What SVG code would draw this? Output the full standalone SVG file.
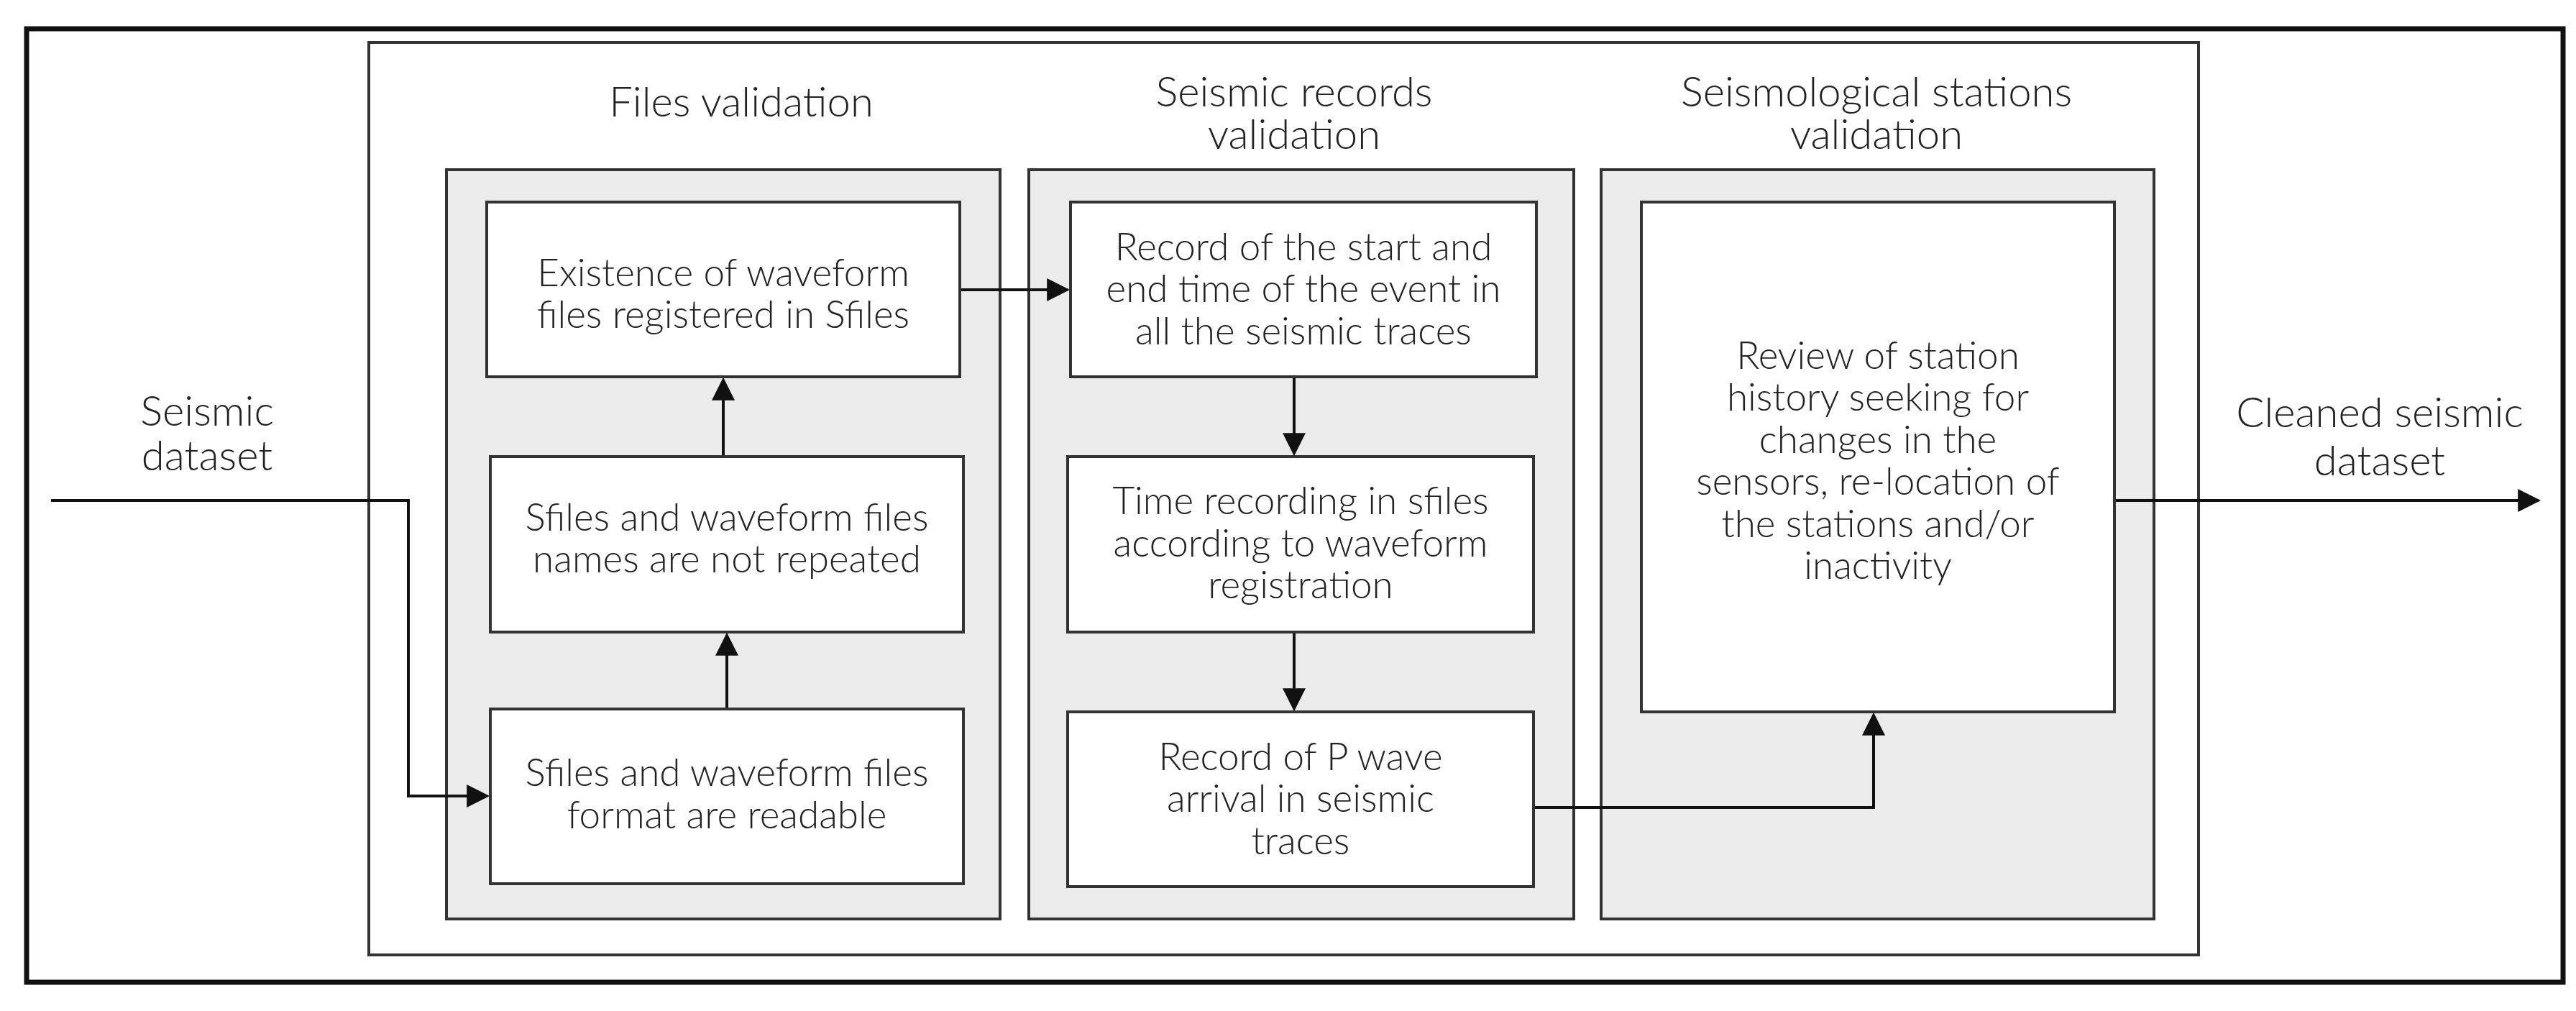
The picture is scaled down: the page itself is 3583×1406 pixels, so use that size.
<svg xmlns="http://www.w3.org/2000/svg" width="3583" height="1406" viewBox="0 0 3583 1406">
<style>
text{font-family:Lato,"Open Sans","Liberation Sans",sans-serif;font-weight:300;font-size:53px;fill:#222;text-anchor:middle}
.t{font-size:58px}
.panel{fill:#ebebeb;stroke:#333;stroke-width:4}
.box{fill:#fff;stroke:#333;stroke-width:4}
.c{fill:none;stroke:#111;stroke-width:4}
</style>
<defs><marker id="a" viewBox="0 0 10 10" refX="9" refY="5" markerWidth="8" markerHeight="8" orient="auto" markerUnits="strokeWidth"><path d="M0,0L10,5L0,10z" fill="#111"/></marker></defs>
<rect x="37" y="40" width="3528" height="1326" fill="#fff" stroke="#111" stroke-width="7"/>
<rect x="513" y="59" width="2545" height="1269" fill="#fff" stroke="#333" stroke-width="4"/>
<g id="titles">
<text class="t" x="1031" y="162">Files validation</text>
<text class="t" x="1800" y="148">Seismic records</text>
<text class="t" x="1800" y="207">validation</text>
<text class="t" x="2610" y="148">Seismological stations</text>
<text class="t" x="2610" y="207">validation</text>
<text class="t" x="288" y="592">Seismic</text>
<text class="t" x="288" y="654">dataset</text>
<text class="t" x="3310" y="594">Cleaned seismic</text>
<text class="t" x="3310" y="661">dataset</text>
</g>
<rect class="panel" x="621" y="236" width="770" height="1042"/>
<rect class="panel" x="1431" y="236" width="758" height="1042"/>
<rect class="panel" x="2227" y="236" width="769" height="1042"/>
<g id="n1"><rect class="box" x="677" y="281" width="658" height="243"/><text x="1006" y="398">Existence of waveform</text><text x="1006" y="456">files registered in Sfiles</text></g>
<g id="n2"><rect class="box" x="682" y="635" width="658" height="244"/><text x="1011" y="738">Sfiles and waveform files</text><text x="1011" y="796">names are not repeated</text></g>
<g id="n3"><rect class="box" x="682" y="986" width="658" height="243"/><text x="1011" y="1093">Sfiles and waveform files</text><text x="1011" y="1152">format are readable</text></g>
<g id="n4"><rect class="box" x="1489" y="281" width="648" height="243"/><text x="1813" y="362">Record of the start and</text><text x="1813" y="420">end time of the event in</text><text x="1813" y="479">all the seismic traces</text></g>
<g id="n5"><rect class="box" x="1485" y="635" width="648" height="244"/><text x="1809" y="715">Time recording in sfiles</text><text x="1809" y="774">according to waveform</text><text x="1809" y="832">registration</text></g>
<g id="n6"><rect class="box" x="1485" y="990" width="648" height="243"/><text x="1809" y="1071">Record of P wave</text><text x="1809" y="1129">arrival in seismic</text><text x="1809" y="1188">traces</text></g>
<g id="n7"><rect class="box" x="2283" y="281" width="658" height="709"/><text x="2612" y="513">Review of station</text><text x="2612" y="571">history seeking for</text><text x="2612" y="630">changes in the</text><text x="2612" y="688">sensors, re-location of</text><text x="2612" y="747">the stations and/or</text><text x="2612" y="805">inactivity</text></g>
<g id="connectors">
<path class="c" d="M71,696H568V1107H678" marker-end="url(#a)"/>
<path class="c" d="M1011,984V883" marker-end="url(#a)"/>
<path class="c" d="M1006,633V528" marker-end="url(#a)"/>
<path class="c" d="M1337,403H1485" marker-end="url(#a)"/>
<path class="c" d="M1800,526V631" marker-end="url(#a)"/>
<path class="c" d="M1800,881V986" marker-end="url(#a)"/>
<path class="c" d="M2135,1123H2606V994" marker-end="url(#a)"/>
<path class="c" d="M2943,696H3531" marker-end="url(#a)"/>
</g>
</svg>
